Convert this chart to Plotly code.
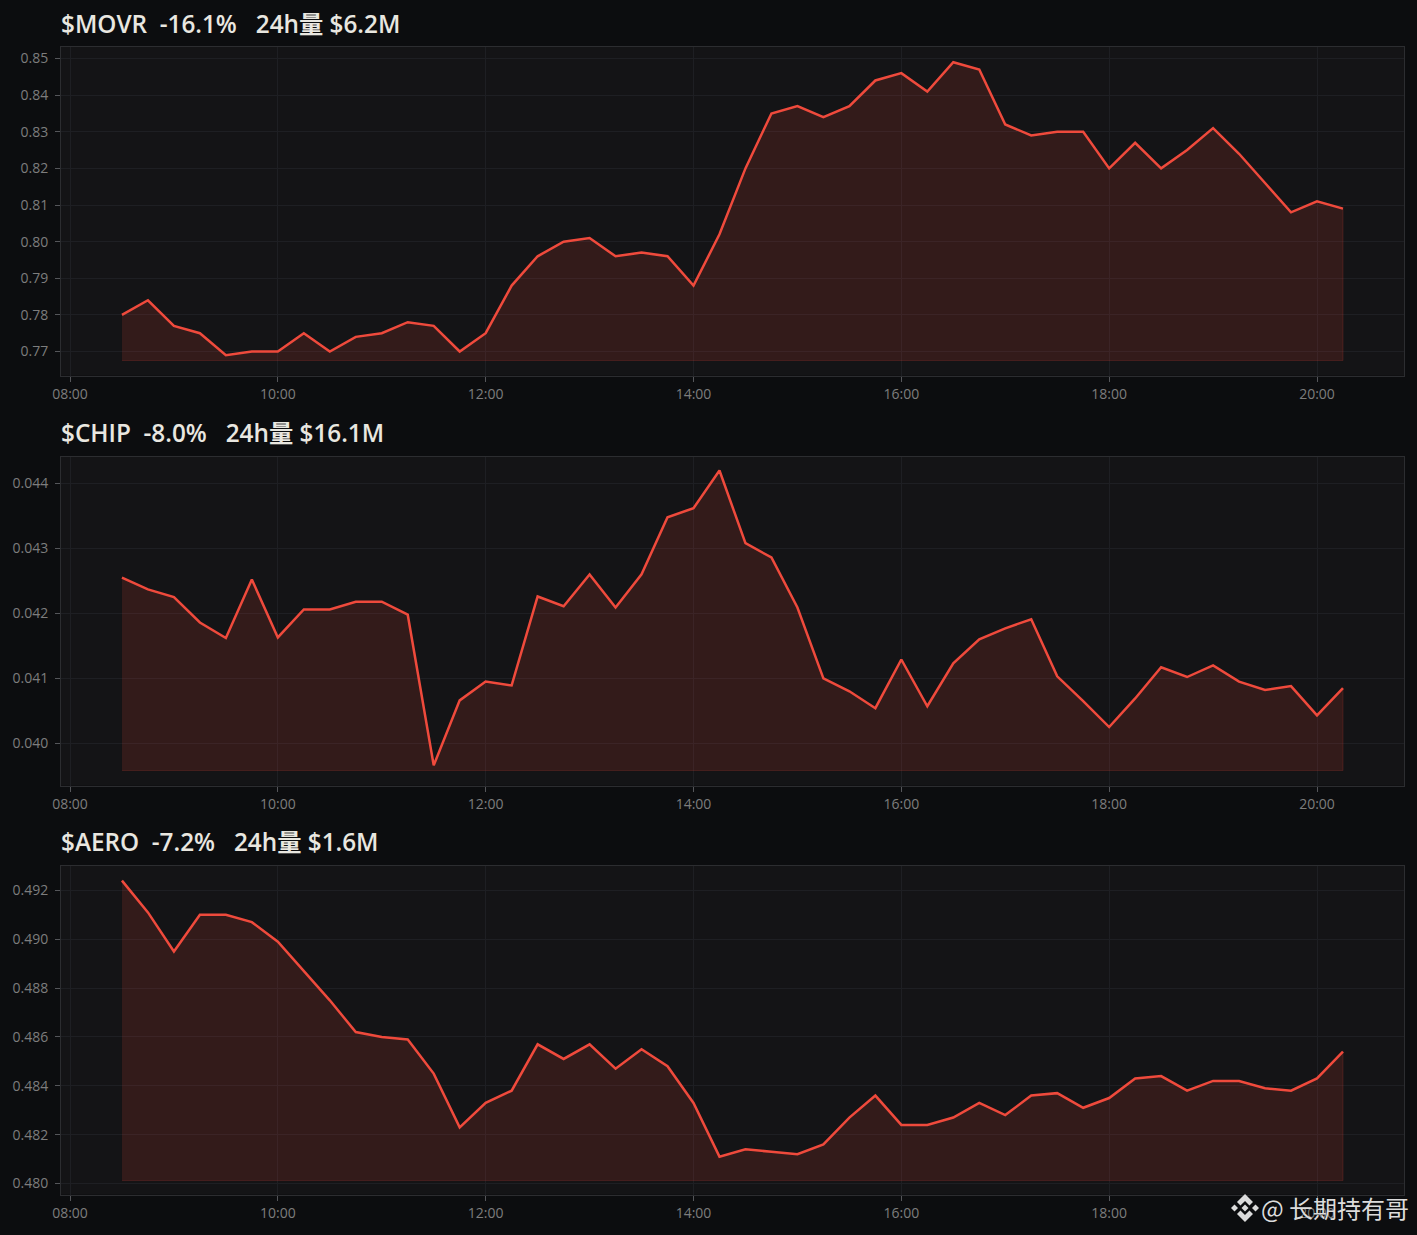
import plotly.graph_objects as go
from plotly.subplots import make_subplots

W, H = 1417, 1235

times = [f"2025-01-01 {h:02d}:{m:02d}" for h in range(8, 21) for m in (0, 15, 30, 45)][2:50]

titles = ["$MOVR  -16.1%   24h量 $6.2M", "$CHIP  -8.0%   24h量 $16.1M", "$AERO  -7.2%   24h量 $1.6M"]

movr = [.780, .784, .777, .775, .769, .770, .770, .775, .770, .774, .775, .778,
        .777, .770, .775, .788, .796, .800, .801, .796, .797, .796, .788, .802,
        .820, .835, .837, .834, .837, .844, .846, .841, .849, .847, .832, .829,
        .830, .830, .820, .827, .820, .825, .831, .824, .816, .808, .811, .809]
chip = [.04255, .04237, .04225, .04186, .04162, .04252, .04163, .04206, .04206, .04218, .04218, .04198,
        .03966, .04066, .04095, .04089, .04226, .04211, .0426, .04209, .0426, .04348, .04362, .0442,
        .04308, .04286, .04209, .0410, .0408, .04054, .04129, .04057, .04123, .0416, .04177, .04191,
        .04103, .04065, .04025, .04069, .04117, .04102, .0412, .04095, .04082, .04088, .04043, .04085]
aero = [.4924, .4911, .4895, .4910, .4910, .4907, .4899, .4887, .4875, .4862, .4860, .4859,
        .4845, .4823, .4833, .4838, .4857, .4851, .4857, .4847, .4855, .4848, .4833, .4811,
        .4814, .4813, .4812, .4816, .4827, .4836, .4824, .4824, .4827, .4833, .4828, .4836,
        .4837, .4831, .4835, .4843, .4844, .4838, .4842, .4842, .4839, .4838, .4843, .4854]

series = [movr, chip, aero]
bases = [0.76754, 0.03958, 0.48012]
y_ranges = [[0.76345, 0.85328], [0.03935, 0.044415], [0.47955, 0.49302]]
y_dticks = [0.01, 0.001, 0.002]
y_formats = [".2f", ".3f", ".3f"]
x_range = ["2025-01-01 07:54:48", "2025-01-01 20:50:14"]

# pixel positions of the three panels
tops = [46.5, 456.5, 865.5]
bottoms = [375.5, 785.5, 1194.5]
title_y = [23.5, 432.5, 842]
left, right = 61, 1404

fig = make_subplots(rows=3, cols=1)

for i in range(3):
    r = i + 1
    fig.add_trace(go.Scatter(
        x=times + [times[-1], times[0]],
        y=series[i] + [bases[i], bases[i]],
        mode="lines", fill="toself", fillcolor="rgba(239,74,60,0.14)",
        line=dict(color="rgba(239,74,60,0.18)", width=1), hoverinfo="skip"
    ), row=r, col=1)
    fig.add_trace(go.Scatter(
        x=times, y=series[i], mode="lines",
        line=dict(color="#ef4a3c", width=2.5)
    ), row=r, col=1)

    axis = dict(
        automargin=False,
        showline=True, linecolor="#2c2d30", linewidth=1, mirror=True,
        gridcolor="#1e1f23", gridwidth=1, zeroline=False,
        ticks="outside", ticklen=5, tickcolor="#55565a", tickwidth=1,
        tickfont=dict(family="Open Sans, Noto Sans", size=14, color="#7d7d7d"),
        layer="above traces",
    )
    fig.update_xaxes(axis, type="date", range=x_range, dtick=7200000,
                     tick0="2025-01-01 08:00", tickformat="%H:%M", ticklabelstandoff=1,
                     domain=[left / W, right / W], row=r, col=1)
    fig.update_yaxes(axis, range=y_ranges[i], dtick=y_dticks[i], tickformat=y_formats[i],
                     ticklabelstandoff=4,
                     domain=[1 - bottoms[i] / H, 1 - tops[i] / H], row=r, col=1)

    fig.add_annotation(
        text=titles[i], xref="paper", yref="paper", x=59 / W, y=1 - title_y[i] / H,
        xanchor="left", yanchor="middle", showarrow=False,
        font=dict(family="Open Sans, Noto Sans CJK SC", size=24.3, color="#e9e7e0", weight=600)
    )

# watermark
fig.add_annotation(
    text="@ 长期持有哥", xref="paper", yref="paper", x=1411 / W, y=1 - 1207 / H,
    xanchor="right", yanchor="middle", showarrow=False,
    font=dict(family="Noto Sans CJK SC", size=24, color="#dcdcdc")
)


def to_path(points):
    return "M " + " L ".join(f"{x / W:.5f},{1 - y / H:.5f}" for x, y in points) + " Z"


cx, cy = 1245, 1208
logo = [
    [(cx, cy - 14), (cx + 8, cy - 6), (cx + 4.5, cy - 2.5), (cx, cy - 7), (cx - 4.5, cy - 2.5), (cx - 8, cy - 6)],
    [(cx, cy + 14), (cx + 8, cy + 6), (cx + 4.5, cy + 2.5), (cx, cy + 7), (cx - 4.5, cy + 2.5), (cx - 8, cy + 6)],
    [(cx, cy - 3.5), (cx + 3.5, cy), (cx, cy + 3.5), (cx - 3.5, cy)],
    [(cx - 10.5, cy - 3.5), (cx - 7, cy), (cx - 10.5, cy + 3.5), (cx - 14, cy)],
    [(cx + 10.5, cy - 3.5), (cx + 14, cy), (cx + 10.5, cy + 3.5), (cx + 7, cy)],
]
for pts in logo:
    fig.add_shape(type="path", xref="paper", yref="paper", path=to_path(pts),
                  fillcolor="#dcdcdc", line_width=0)

fig.update_layout(
    width=W, height=H, margin=dict(l=0, r=0, t=0, b=0),
    paper_bgcolor="#0c0d0f", plot_bgcolor="#141416",
    showlegend=False,
)

fig.write_html("out.html", config=dict(displayModeBar=False),
               post_script="document.body.style.margin='0';document.body.style.background='#0c0d0f';")
